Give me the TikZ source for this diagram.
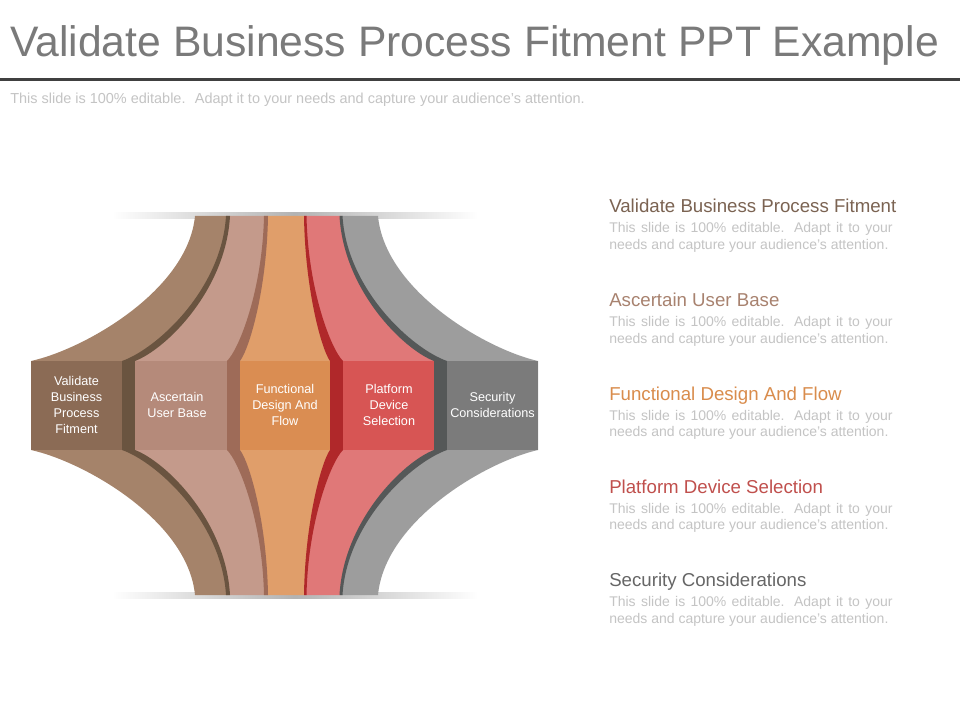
\documentclass[tikz,border=0pt]{standalone}
\usepackage{fontspec}
\setmainfont{Liberation Sans}
\definecolor{bandA}{HTML}{A5836A}
\definecolor{boxA}{HTML}{8B6B55}
\definecolor{stripA}{HTML}{6A5440}
\definecolor{bandB}{HTML}{C49A8B}
\definecolor{boxB}{HTML}{B58A7A}
\definecolor{stripB}{HTML}{9E6B58}
\definecolor{bandC}{HTML}{E09E6A}
\definecolor{boxC}{HTML}{DA8D52}
\definecolor{stripC}{HTML}{B0282A}
\definecolor{bandD}{HTML}{E07878}
\definecolor{boxD}{HTML}{D75554}
\definecolor{stripD}{HTML}{555858}
\definecolor{bandE}{HTML}{9D9D9D}
\definecolor{boxE}{HTML}{7B7B7B}
\definecolor{titlegray}{HTML}{7A7A7A}
\definecolor{rulegray}{HTML}{404040}
\definecolor{subgray}{HTML}{C4C4C4}
\definecolor{headA}{HTML}{7B6352}
\definecolor{headB}{HTML}{A8826F}
\definecolor{headC}{HTML}{D98C4C}
\definecolor{headD}{HTML}{C0504D}
\definecolor{headE}{HTML}{666666}
\newcommand{\vband}[5]{%
  \pgfmathsetmacro{\vbla}{#2+0.043*(#3-#2)}%
  \pgfmathsetmacro{\vblc}{#2+0.67*(#3-#2)}%
  \pgfmathsetmacro{\vbra}{#4+0.043*(#5-#4)}%
  \pgfmathsetmacro{\vbrc}{#4+0.67*(#5-#4)}%
  \fill[#1] (#2,216) .. controls (\vbla,290) and (\vblc,349) .. (#3,361)
    -- (#3,450) .. controls (\vblc,462) and (\vbla,521) .. (#2,595)
    -- (#4,595) .. controls (\vbra,521) and (\vbrc,462) .. (#5,450)
    -- (#5,361) .. controls (\vbrc,349) and (\vbra,290) .. (#4,216) -- cycle;}
\newcommand{\bodytext}{\makebox[212.5pt][s]{This slide is 100\% editable. Adapt it to your}}
\tikzset{
  boxtxt/.style={text=white, font=\fontsize{9.5}{12}\selectfont, align=center, inner sep=0pt},
  headtxt/.style={anchor=base west, inner sep=0pt, font=\fontsize{14}{16}\selectfont},
  bodytxt/.style={anchor=base west, inner sep=0pt, text=subgray, font=\fontsize{10.5}{12}\selectfont}
}
\begin{document}
\begin{tikzpicture}[x=0.75pt,y=-0.75pt]
\useasboundingbox (0,0) rectangle (960,720);
\fill[white] (0,0) rectangle (960,720);
% title
\node[anchor=base west, inner sep=0pt, text=titlegray, font=\fontsize{32}{36}\selectfont] (title) at (10,57) {Validate Business Process Fitment PPT Example};
\fill[rulegray] (0,78.5) rectangle (960,81.5);
\node[bodytxt, font=\fontsize{10.85}{12}\selectfont] (sub) at (10,104) {This slide is 100\% editable. \ Adapt it to your needs and capture your audience's attention.};
% shadows
\shade[left color=white, right color=white, middle color=black!30] (112,213) rectangle (478,219);
\shade[left color=white, right color=white, middle color=black!30] (112,592) rectangle (478,598);
% bands
\vband{bandA}{195}{31}{228}{128.5}
\vband{bandB}{228}{128.5}{266}{233.5}
\vband{bandC}{266}{233.5}{305}{336.5}
\vband{bandD}{305}{336.5}{341}{440.5}
\vband{bandE}{341}{440.5}{378}{538}
% strips
\vband{stripA}{226}{122}{230}{135}
\vband{stripB}{264}{227}{268}{240}
\vband{stripC}{304}{330}{306.5}{343}
\vband{stripD}{339.5}{434}{342.5}{447}
% boxes
\fill[boxA] (31,361) rectangle (122,450);
\fill[boxB] (135,361) rectangle (227,450);
\fill[boxC] (240,361) rectangle (330,450);
\fill[boxD] (343,361) rectangle (434,450);
\fill[boxE] (447,361) rectangle (538,450);
\node[boxtxt] (b1) at (76.5,405) {Validate\\Business\\Process\\Fitment};
\node[boxtxt] (b2) at (177,405) {Ascertain\\User Base};
\node[boxtxt] (b3) at (285,405) {Functional\\Design And\\Flow};
\node[boxtxt] (b4) at (389,405) {Platform\\Device\\Selection};
\node[boxtxt] (b5) at (492.5,405) {Security\\Considerations};
% right column
\node[headtxt, text=headA] (h1) at (609,213) {Validate Business Process Fitment};
\node[bodytxt] (p1a) at (609,233) {\bodytext};
\node[bodytxt] (p1b) at (609,249.5) {needs and capture your audience's attention.};
\node[headtxt, text=headB] (h2) at (609,306.5) {Ascertain User Base};
\node[bodytxt] (p2a) at (609,326.5) {\bodytext};
\node[bodytxt] (p2b) at (609,343) {needs and capture your audience's attention.};
\node[headtxt, text=headC] (h3) at (609,400) {Functional Design And Flow};
\node[bodytxt] (p3a) at (609,420) {\bodytext};
\node[bodytxt] (p3b) at (609,436.5) {needs and capture your audience's attention.};
\node[headtxt, text=headD] (h4) at (609,493.3) {Platform Device Selection};
\node[bodytxt] (p4a) at (609,513.3) {\bodytext};
\node[bodytxt] (p4b) at (609,529.8) {needs and capture your audience's attention.};
\node[headtxt, text=headE] (h5) at (609,586.7) {Security Considerations};
\node[bodytxt] (p5a) at (609,606.7) {\bodytext};
\node[bodytxt] (p5b) at (609,623.2) {needs and capture your audience's attention.};
\end{tikzpicture}
\end{document}
